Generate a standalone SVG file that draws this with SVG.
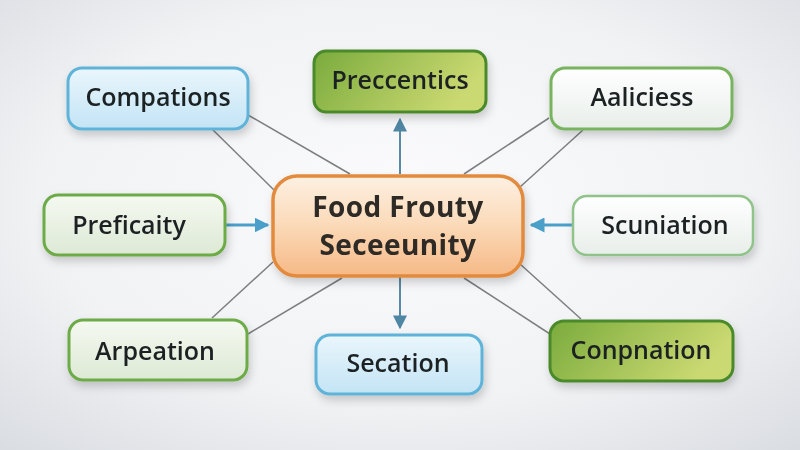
<svg xmlns="http://www.w3.org/2000/svg" width="800" height="450" viewBox="0 0 800 450">
<defs>
<radialGradient id="bg" cx="50%" cy="45%" r="75%">
<stop offset="0" stop-color="#fbfbfc"/><stop offset="0.6" stop-color="#f1f2f4"/><stop offset="1" stop-color="#d9dce1"/>
</radialGradient>
<linearGradient id="gCenter" x1="0" y1="0" x2="0" y2="1">
<stop offset="0" stop-color="#fdf0e2"/><stop offset="0.45" stop-color="#fbdcbc"/><stop offset="1" stop-color="#f6b986"/>
</linearGradient>
<linearGradient id="gBlue" x1="0" y1="0" x2="0" y2="1">
<stop offset="0" stop-color="#eaf6fc"/><stop offset="1" stop-color="#c3e4f5"/>
</linearGradient>
<linearGradient id="gDark" x1="0" y1="0" x2="1" y2="0.3">
<stop offset="0" stop-color="#7aab3c"/><stop offset="1" stop-color="#cbd972"/>
</linearGradient>
<linearGradient id="gLight" x1="0" y1="0" x2="0" y2="1">
<stop offset="0" stop-color="#f5f9f1"/><stop offset="1" stop-color="#dde9d5"/>
</linearGradient>
<linearGradient id="gWhite" x1="0" y1="0" x2="0" y2="1">
<stop offset="0" stop-color="#ffffff"/><stop offset="1" stop-color="#e8eeea"/>
</linearGradient>
<filter id="sh" x="-20%" y="-30%" width="140%" height="170%">
<feDropShadow dx="2" dy="5" stdDeviation="4" flood-color="#000" flood-opacity="0.18"/>
</filter>
<marker id="ahB" viewBox="0 0 10 10" refX="9" refY="5" markerWidth="5" markerHeight="5" orient="auto" markerUnits="strokeWidth">
<path d="M0,0 L10,5 L0,10 z" fill="#4aa0c8"/>
</marker>
<marker id="ahG" viewBox="0 0 10 10" refX="9" refY="5" markerWidth="7" markerHeight="7" orient="auto" markerUnits="strokeWidth">
<path d="M0,0 L10,5 L0,10 z" fill="#4f86a3"/>
</marker>
</defs>
<style>
.lbl{font-family:"Open Sans","Noto Sans","Liberation Sans",sans-serif;font-size:25px;font-weight:600;fill:#1c2024;text-anchor:middle}
.ctr{font-family:"Open Sans","Noto Sans","Liberation Sans",sans-serif;font-size:28px;font-weight:bold;fill:#2e2925;text-anchor:middle;letter-spacing:0.4px}
.line{stroke:#7c7f82;stroke-width:1.5;fill:none}
.arrB{stroke:#4aa0c8;stroke-width:3;fill:none}
.arrG{stroke:#5a8aa3;stroke-width:2;fill:none}
.node{filter:url(#sh)}
.blue{fill:url(#gBlue);stroke:#5fb3d8;stroke-width:3}
.dark{fill:url(#gDark);stroke:#4b8a2c;stroke-width:3}
.light{fill:url(#gLight);stroke:#6dab48;stroke-width:3}
.white{fill:url(#gWhite);stroke:#8fc38a;stroke-width:2.5}
</style>
<rect width="800" height="450" fill="url(#bg)"/>
<g id="connectors">
<line class="line" x1="248" y1="115" x2="350" y2="174"/>
<line class="line" x1="212" y1="129" x2="274" y2="190"/>
<line class="line" x1="549" y1="118" x2="464" y2="174"/>
<line class="line" x1="583" y1="130" x2="520" y2="187"/>
<line class="line" x1="273" y1="262" x2="212" y2="318"/>
<line class="line" x1="342" y1="278" x2="248" y2="334"/>
<line class="line" x1="520" y1="264" x2="581" y2="319"/>
<line class="line" x1="464" y1="278" x2="550" y2="334"/>
<line class="arrG" x1="400" y1="174" x2="400" y2="119" marker-end="url(#ahG)"/>
<line class="arrG" x1="400" y1="277" x2="400" y2="328" marker-end="url(#ahG)"/>
<line class="arrB" x1="226" y1="225" x2="268" y2="225" marker-end="url(#ahB)"/>
<line class="arrB" x1="572" y1="225" x2="531" y2="225" marker-end="url(#ahB)"/>
</g>
<g id="center" class="node">
<rect x="273" y="176" width="250" height="100" rx="24" fill="url(#gCenter)" stroke="#e28a3c" stroke-width="3.5"/>
<text class="ctr" x="398" y="217">Food Frouty</text>
<text class="ctr" x="398" y="255">Seceeunity</text>
</g>
<g id="compations" class="node">
<rect class="blue" x="68" y="68" width="180" height="61" rx="14"/>
<text class="lbl" x="158" y="106">Compations</text>
</g>
<g id="preccentics" class="node">
<rect class="dark" x="314" y="51" width="172" height="61" rx="12"/>
<text class="lbl" x="400" y="89" font-weight="bold">Preccentics</text>
</g>
<g id="aaliciess" class="node">
<rect x="551" y="68" width="181" height="61" rx="14" style="fill:url(#gWhite);stroke:#78b35e;stroke-width:3"/>
<text class="lbl" x="642" y="106">Aaliciess</text>
</g>
<g id="preficaity" class="node">
<rect class="light" x="44" y="195" width="181" height="60" rx="14"/>
<text class="lbl" x="129" y="234">Preficaity</text>
</g>
<g id="scuniation" class="node">
<rect class="white" x="573" y="196" width="180" height="59" rx="14"/>
<text class="lbl" x="665" y="234">Scuniation</text>
</g>
<g id="arpeation" class="node">
<rect class="light" x="69" y="320" width="178" height="60" rx="14"/>
<text class="lbl" x="155" y="360">Arpeation</text>
</g>
<g id="secation" class="node">
<rect class="blue" x="316" y="335" width="166" height="59" rx="14"/>
<text class="lbl" x="398" y="372">Secation</text>
</g>
<g id="conpnation" class="node">
<rect class="dark" x="550" y="321" width="183" height="60" rx="14"/>
<text class="lbl" x="641" y="359">Conpnation</text>
</g>
</svg>
